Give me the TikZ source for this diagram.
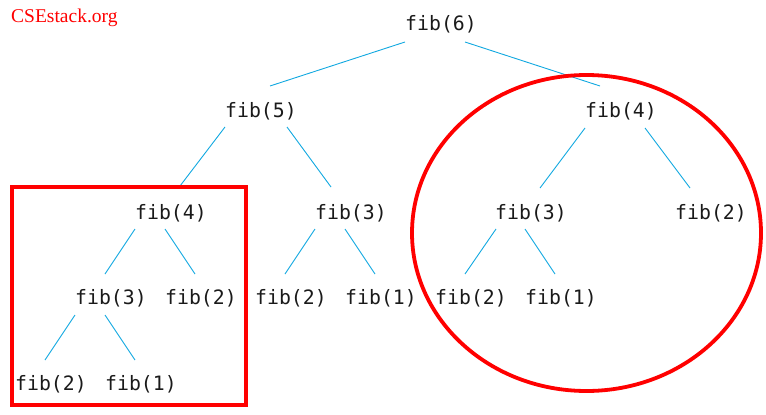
\documentclass[tikz,border=0pt]{standalone}
\usepackage{fontspec}
\setmonofont{DejaVu Sans Mono}
\setmainfont{Liberation Serif}
\usetikzlibrary{calc}
\definecolor{edgeblue}{HTML}{11A8E0}
\definecolor{txt}{HTML}{1A1A1A}
\tikzset{
  tnode/.style={inner sep=0pt, text=txt, font=\ttfamily\fontsize{19.8}{20}\selectfont},
  edge/.style={draw=edgeblue, line width=0.9pt},
  hl/.style={draw=red, line width=3.8pt},
}
\begin{document}
\begin{tikzpicture}[x=1pt,y=-1pt]
\useasboundingbox (0,0) rectangle (766,415);
\node[anchor=west, text=red, font=\fontsize{19.5}{20}\selectfont, inner sep=0pt] (site) at (11,18) {CSEstack.org};
% nodes
\node[tnode] (f6) at (441,24.5) {fib(6)};
\node[tnode] (f5) at (261,111.5) {fib(5)};
\node[tnode] (f4r) at (621,111.5) {fib(4)};
\node[tnode] (f4l) at (171,213.5) {fib(4)};
\node[tnode] (f3m) at (351,213.5) {fib(3)};
\node[tnode] (f3r) at (531,213.5) {fib(3)};
\node[tnode] (f2r) at (711,213.5) {fib(2)};
\node[tnode] (f3l) at (111,298.5) {fib(3)};
\node[tnode] (f2a) at (201,298.5) {fib(2)};
\node[tnode] (f2b) at (291,298.5) {fib(2)};
\node[tnode] (f1b) at (381,298.5) {fib(1)};
\node[tnode] (f2c) at (471,298.5) {fib(2)};
\node[tnode] (f1c) at (561,298.5) {fib(1)};
\node[tnode] (f2d) at (51,384.5) {fib(2)};
\node[tnode] (f1d) at (141,384.5) {fib(1)};
% edges
\draw[edge] ($(f6)+(-36,17.5)$) -- ($(f5)+(9,-25.5)$);
\draw[edge] ($(f6)+(24,17.5)$) -- ($(f4r)+(-21,-25.5)$);
\draw[edge] ($(f5)+(-36,15.5)$) -- ($(f4l)+(9,-27.5)$);
\draw[edge] ($(f5)+(26,15.5)$) -- ($(f3m)+(-20,-26.5)$);
\draw[edge] ($(f4r)+(-36,16.5)$) -- ($(f3r)+(9,-25.5)$);
\draw[edge] ($(f4r)+(24,16.5)$) -- ($(f2r)+(-21,-25.5)$);
\draw[edge] ($(f4l)+(-36,15.5)$) -- ($(f3l)+(-6,-24.5)$);
\draw[edge] ($(f4l)+(-6,15.5)$) -- ($(f2a)+(-6,-24.5)$);
\draw[edge] ($(f3m)+(-36,15.5)$) -- ($(f2b)+(-6,-24.5)$);
\draw[edge] ($(f3m)+(-6,15.5)$) -- ($(f1b)+(-6,-24.5)$);
\draw[edge] ($(f3r)+(-35,15.5)$) -- ($(f2c)+(-6,-24.5)$);
\draw[edge] ($(f3r)+(-6,15.5)$) -- ($(f1c)+(-6,-24.5)$);
\draw[edge] ($(f3l)+(-36,16.5)$) -- ($(f2d)+(-6,-24.5)$);
\draw[edge] ($(f3l)+(-6,16.5)$) -- ($(f1d)+(-6,-24.5)$);
% highlights
\draw[hl] (12,187) rectangle (246,405);
\draw[hl] (586.5,233) ellipse [x radius=174.5, y radius=158];
\end{tikzpicture}
\end{document}
